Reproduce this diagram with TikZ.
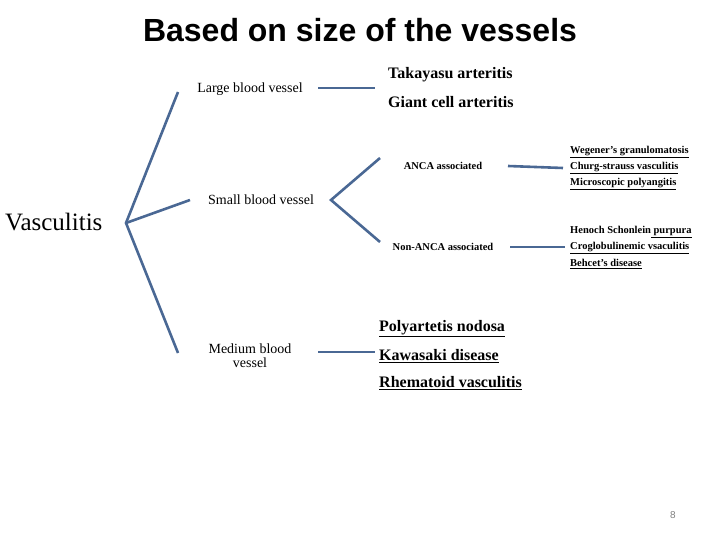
\documentclass[tikz,border=0pt]{standalone}
\usepackage{fontspec}
\setmainfont{Liberation Serif}
\newfontfamily\sansf{Liberation Sans}
\definecolor{ln}{RGB}{74,104,148}
\begin{document}
\begin{tikzpicture}[x=1pt,y=-1pt,
  conn/.style={draw=ln,line width=2.6pt},
  lab/.style={font=\fontsize{14}{16}\selectfont, align=center, inner sep=0},
  big/.style={font=\fontsize{16}{18}\selectfont\bfseries, anchor=west, inner sep=0},
  sm/.style={font=\fontsize{10.5}{12}\selectfont\bfseries, anchor=west, inner sep=0},
  smc/.style={font=\fontsize{10.5}{12}\selectfont\bfseries, inner sep=0}]
\useasboundingbox (0,0) rectangle (720,540);
\node[font=\sansf\fontsize{32}{36}\selectfont\bfseries] (title) at (360,30) {Based on size of the vessels};
\node[font=\fontsize{25}{28}\selectfont, anchor=west, inner sep=0] (vasc) at (5,222) {Vasculitis};
\coordinate (apex) at (126,223);
\node[lab] (large) at (250,89) {Large blood vessel};
\node[lab] (small) at (261,200) {Small blood vessel};
\node[lab] (medium) at (250,356) {Medium blood\\[-2pt]vessel};
\coordinate (lt) at (178,92);
\coordinate (st) at (190,200);
\coordinate (mt) at (178,353);
\draw[conn] (lt) -- (apex) -- (mt);
\draw[conn] (apex) -- (st);
\coordinate (sa) at (331,200);
\coordinate (su) at (380,158);
\coordinate (sd) at (380,242);
\draw[conn] (su) -- (sa) -- (sd);
\node[big] (tak) at (388,75) {Takayasu arteritis};
\node[big] (gca) at (388,102) {Giant cell arteritis};
\draw[conn] (318,88) -- (375,88);
\node[smc] (anca) at (443,166) {ANCA associated};
\node[smc] (nanca) at (443,247) {Non-ANCA associated};
\draw[conn] (508,166) -- (563,168);
\draw[conn] (510,247) -- (565,247);
\node[sm] (w) at (570,152) {\underline{Wegener's granulomatosis}};
\node[sm] (c) at (570,168) {\underline{Churg-strauss vasculitis}};
\node[sm] (m) at (570,184) {\underline{Microscopic polyangitis}};
\node[sm] (h) at (570,232) {Henoch Schonlein\underline{ purpura}};
\node[sm] (cr) at (570,248) {\underline{Croglobulinemic vsaculitis}};
\node[sm] (b) at (570,264) {\underline{Behcet's disease}};
\draw[conn] (318,352) -- (375,352);
\node[big] (p) at (379,329) {\underline{Polyartetis nodosa}};
\node[big] (k) at (379,356) {\underline{Kawasaki disease}};
\node[big] (r) at (379,383) {\underline{Rhematoid vasculitis}};
\node[font=\sansf\fontsize{10}{12}\selectfont, text=gray] (pg) at (673,515) {8};
\end{tikzpicture}
\end{document}
